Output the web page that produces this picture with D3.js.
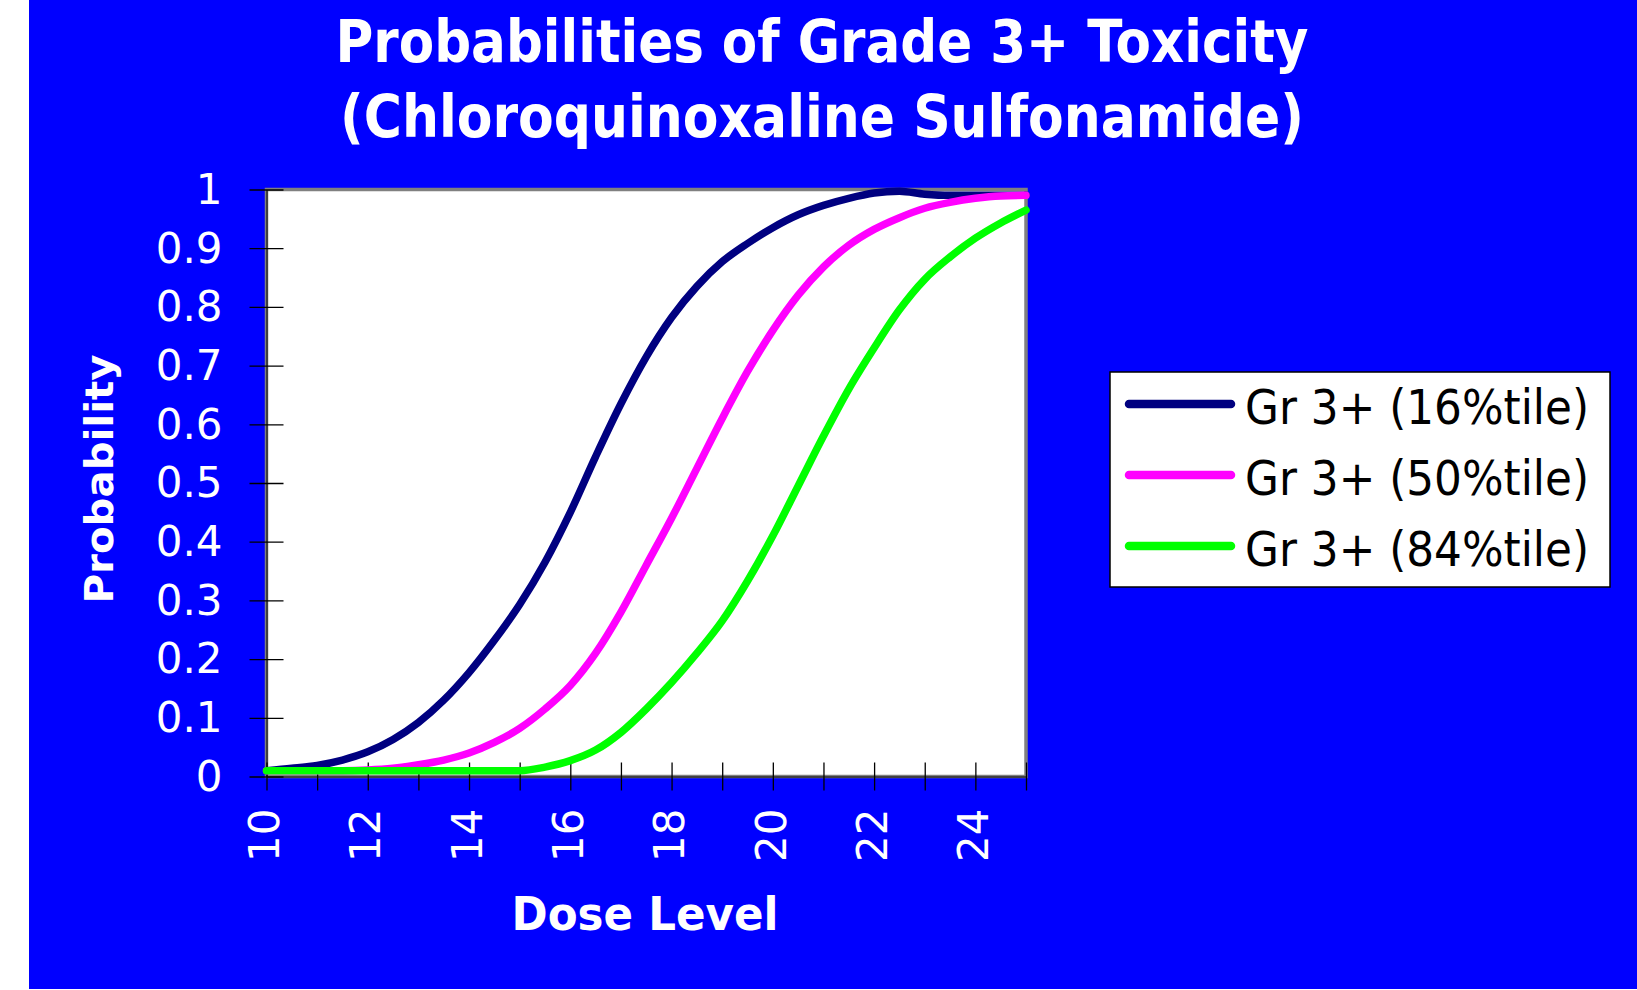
<!DOCTYPE html>
<html>
<head>
<meta charset="utf-8">
<script src="https://cdn.jsdelivr.net/npm/d3@7"></script>
<style>
  html, body { margin: 0; padding: 0; background: #ffffff; }
  svg { display: block; }
</style>
</head>
<body>
<svg id="chart" width="1637" height="990"></svg>
<script>
// ---------- data ----------
const titleLines = ["Probabilities of Grade 3+ Toxicity", "(Chloroquinoxaline Sulfonamide)"];
const xAxisTitle = "Dose Level";
const yAxisTitle = "Probability";

const doses = [10, 10.5, 11, 11.5, 12, 12.5, 13, 13.5, 14, 14.5, 15, 15.5, 16, 16.5, 17, 17.5,
               18, 18.5, 19, 19.5, 20, 20.5, 21, 21.5, 22, 22.5, 23, 23.5, 24, 24.5, 25];

const gr16 = [0.010, 0.014, 0.019, 0.028, 0.042, 0.063, 0.092, 0.130, 0.177, 0.232, 0.293, 0.365,
              0.450, 0.545, 0.635, 0.715, 0.782, 0.835, 0.877, 0.908, 0.935, 0.957, 0.973, 0.985,
              0.994, 0.997, 0.992, 0.990, 0.990, 0.990, 0.990];
const gr50 = [0.010, 0.010, 0.010, 0.010, 0.011, 0.014, 0.020, 0.028, 0.040, 0.058, 0.082, 0.115,
              0.155, 0.210, 0.280, 0.360, 0.440, 0.525, 0.610, 0.690, 0.760, 0.820, 0.868, 0.905,
              0.932, 0.952, 0.968, 0.978, 0.985, 0.989, 0.990];
const gr84 = [0.010, 0.010, 0.010, 0.010, 0.010, 0.010, 0.010, 0.010, 0.010, 0.010, 0.010, 0.016,
              0.027, 0.045, 0.075, 0.115, 0.160, 0.210, 0.265, 0.333, 0.410, 0.495, 0.580, 0.660,
              0.730, 0.795, 0.847, 0.885, 0.917, 0.943, 0.965];

const seriesNames = ["Gr 3+ (16%tile)", "Gr 3+ (50%tile)", "Gr 3+ (84%tile)"];
const seriesValues = [gr16, gr50, gr84];
const seriesColors = ["#000080", "#FF00FF", "#00FF00"];

const yTickValues = [0, 0.1, 0.2, 0.3, 0.4, 0.5, 0.6, 0.7, 0.8, 0.9, 1];
const xTickValues = [10, 11, 12, 13, 14, 15, 16, 17, 18, 19, 20, 21, 22, 23, 24, 25];
const xLabelValues = [10, 12, 14, 16, 18, 20, 22, 24];

// ---------- layout ----------
const svg = d3.select("#chart");
const FONT = "'DejaVu Sans', 'Noto Sans', sans-serif";
const plot = { left: 266.5, right: 1026, top: 189.5, bottom: 776.5 };

// backgrounds
svg.append("rect").attr("x", 0).attr("y", 0).attr("width", 1637).attr("height", 990).attr("fill", "#ffffff");
svg.append("rect").attr("x", 29).attr("y", 0).attr("width", 1608).attr("height", 989).attr("fill", "#0000FF");

const x = d3.scaleLinear().domain([10, 25]).range([plot.left, plot.right]);
const y = d3.scaleLinear().domain([0, 1]).range([plot.bottom, plot.top]);

// plot area
svg.append("rect")
  .attr("x", plot.left).attr("y", plot.top)
  .attr("width", plot.right - plot.left).attr("height", plot.bottom - plot.top)
  .attr("fill", "#ffffff").attr("stroke", "#808080").attr("stroke-width", 3.5);

// y axis
const yAxis = d3.axisLeft(y).tickValues(yTickValues)
  .tickFormat(d => d3.format("~g")(d))
  .tickSizeInner(17).tickSizeOuter(0).tickPadding(27);
const gy = svg.append("g").attr("transform", `translate(${plot.left},0)`).call(yAxis);
gy.select(".domain").attr("stroke", "#000").attr("stroke-width", 1);
gy.selectAll(".tick line").attr("x1", 17).attr("x2", -17).attr("stroke", "#000").attr("stroke-width", 1.3);
gy.selectAll(".tick text")
  .attr("fill", "#ffffff").attr("font-family", FONT).attr("font-size", 42).attr("dy", "0.33em");

// x axis
const xAxis = d3.axisBottom(x).tickValues(xTickValues)
  .tickFormat(d => xLabelValues.includes(d) ? String(d) : "")
  .tickSizeInner(14).tickSizeOuter(0);
const gx = svg.append("g").attr("transform", `translate(0,${plot.bottom})`).call(xAxis);
gx.select(".domain").attr("stroke", "#000").attr("stroke-width", 1);
gx.selectAll(".tick line").attr("y1", -14).attr("y2", 14).attr("stroke", "#000").attr("stroke-width", 1.3);
gx.selectAll(".tick text")
  .attr("fill", "#ffffff").attr("font-family", FONT).attr("font-size", 42)
  .attr("transform", "rotate(-90)")
  .attr("text-anchor", "end")
  .attr("x", -32).attr("y", 0).attr("dy", "0.29em");

// lines
const line = d3.line().x((d, i) => x(doses[i])).y(d => y(d)).curve(d3.curveMonotoneX);
seriesValues.forEach((vals, k) => {
  svg.append("path")
    .attr("d", line(vals))
    .attr("fill", "none")
    .attr("stroke", seriesColors[k])
    .attr("stroke-width", 7.5)
    .attr("stroke-linecap", "round")
    .attr("stroke-linejoin", "round");
});

// title
const titleBaselines = [61.5, 136.5];
const titleWidths = [973, 964];
titleLines.forEach((t, i) => {
  svg.append("text")
    .attr("x", 822).attr("y", titleBaselines[i])
    .attr("text-anchor", "middle")
    .attr("font-family", FONT).attr("font-weight", "bold").attr("font-size", 58)
    .attr("fill", "#ffffff")
    .attr("textLength", titleWidths[i]).attr("lengthAdjust", "spacingAndGlyphs")
    .text(t);
});

// axis titles
svg.append("text")
  .attr("x", 645).attr("y", 930)
  .attr("text-anchor", "middle")
  .attr("font-family", FONT).attr("font-weight", "bold").attr("font-size", 47)
  .attr("fill", "#ffffff")
  .attr("textLength", 267).attr("lengthAdjust", "spacingAndGlyphs")
  .text(xAxisTitle);

svg.append("text")
  .attr("transform", "translate(113,479) rotate(-90)")
  .attr("text-anchor", "middle")
  .attr("font-family", FONT).attr("font-weight", "bold").attr("font-size", 39)
  .attr("fill", "#ffffff")
  .attr("textLength", 249).attr("lengthAdjust", "spacingAndGlyphs")
  .text(yAxisTitle);

// legend
const legend = svg.append("g");
legend.append("rect")
  .attr("x", 1110).attr("y", 372).attr("width", 500).attr("height", 215)
  .attr("fill", "#ffffff").attr("stroke", "#000").attr("stroke-width", 1.5);
const legendRowY = [404, 475, 546];
seriesNames.forEach((name, k) => {
  legend.append("line")
    .attr("x1", 1129).attr("x2", 1231)
    .attr("y1", legendRowY[k]).attr("y2", legendRowY[k])
    .attr("stroke", seriesColors[k]).attr("stroke-width", 8.5).attr("stroke-linecap", "round");
  legend.append("text")
    .attr("x", 1245).attr("y", legendRowY[k] + 19.5)
    .attr("font-family", FONT).attr("font-size", 48)
    .attr("fill", "#000")
    .attr("textLength", 344).attr("lengthAdjust", "spacingAndGlyphs")
    .text(name);
});
</script>
</body>
</html>
